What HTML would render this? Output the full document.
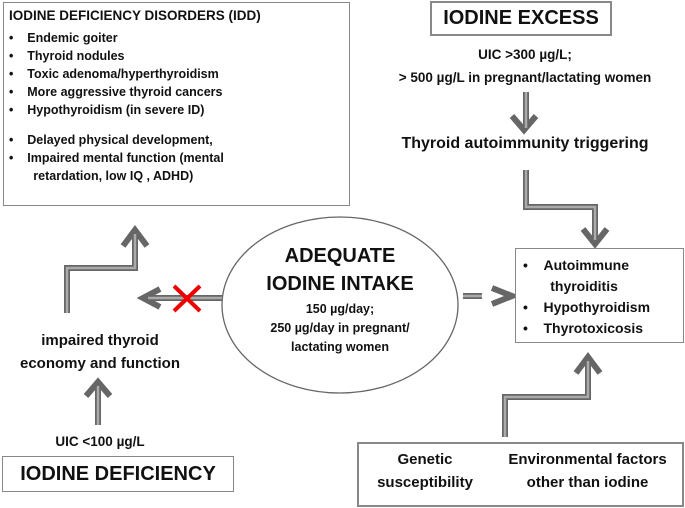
<!DOCTYPE html>
<html><head><meta charset="utf-8"><style>
body{margin:0;width:685px;height:508px;background:#fff;position:relative;overflow:hidden;font-family:"Liberation Sans",sans-serif;font-weight:bold;color:#111}
.a{position:absolute;white-space:nowrap}
.box{position:absolute;border:1.5px solid #888;box-sizing:border-box;background:#fff}
ul{margin:0;padding:0;list-style:none}
.c{text-align:center}
</style></head><body>
<svg width="685" height="508" style="position:absolute;left:0;top:0">
<ellipse cx="340" cy="305" rx="118" ry="88" fill="#fff" stroke="#666" stroke-width="1.3"/>
<g fill="none" stroke-linejoin="miter" stroke-linecap="butt">
<g stroke="#666" stroke-width="6">
<path d="M526 92V128M512 116L524 130L536 116"/>
<path d="M526 170V207H595V243M583 229L595 244L607 229"/>
<path d="M463 296H482M492 288L512 296L492 304"/>
<path d="M222 298H145M160 289L143 298L160 307"/>
<path d="M67 313V268H135V232M123 246L135 230L147 246"/>
<path d="M98 425V386M86 396L98 382L110 396"/>
<path d="M505 437V397H588V359M576 373L588 357L600 373"/>
</g>
<g stroke="#aaa" stroke-width="2.5">
<path d="M526 92V128"/><path d="M526 170V207H595V240"/><path d="M463 296H482"/>
<path d="M222 298H148"/><path d="M67 313V268H135V234"/><path d="M98 425V386"/><path d="M505 437V397H588V361"/>
</g>
</g>
<path d="M174 286L200 311M200 286L174 311" stroke="#e00" stroke-width="4"/>
</svg>
<div class="box" style="left:3px;top:2px;width:347px;height:204px"></div>
<div class="a" style="left:9px;top:8px;font-size:13.5px">IODINE DEFICIENCY DISORDERS (IDD)</div>
<div class="a" style="left:9px;top:29px;font-size:12.5px;line-height:18px">
•&nbsp;&nbsp;&nbsp;&nbsp;Endemic goiter<br>•&nbsp;&nbsp;&nbsp;&nbsp;Thyroid nodules<br>•&nbsp;&nbsp;&nbsp;&nbsp;Toxic adenoma/hyperthyroidism<br>•&nbsp;&nbsp;&nbsp;&nbsp;More aggressive thyroid cancers<br>•&nbsp;&nbsp;&nbsp;&nbsp;Hypothyroidism (in severe ID)</div>
<div class="a" style="left:9px;top:131px;font-size:12.5px;line-height:18px">
•&nbsp;&nbsp;&nbsp;&nbsp;Delayed physical development,<br>•&nbsp;&nbsp;&nbsp;&nbsp;Impaired mental function (mental<br>&nbsp;&nbsp;&nbsp;&nbsp;&nbsp;&nbsp;&nbsp;retardation, low IQ , ADHD)</div>
<div class="box" style="left:430px;top:1px;width:182px;height:35px;border-width:2px"></div>
<div class="a c" style="left:430px;top:7px;width:182px;font-size:20px">IODINE EXCESS</div>
<div class="a c" style="left:350px;top:43px;width:350px;font-size:13.5px;line-height:23px">UIC &gt;300 µg/L;<br>&gt; 500 µg/L in pregnant/lactating women</div>
<div class="a c" style="left:360px;top:135px;width:330px;font-size:16px">Thyroid autoimmunity triggering</div>
<div class="box" style="left:515px;top:248px;width:169px;height:95px"></div>
<div class="a" style="left:523px;top:255px;font-size:14px;line-height:21px">•&nbsp;&nbsp;&nbsp;&nbsp;Autoimmune<br>&nbsp;&nbsp;&nbsp;&nbsp;&nbsp;&nbsp;&nbsp;thyroiditis<br>•&nbsp;&nbsp;&nbsp;&nbsp;Hypothyroidism<br>•&nbsp;&nbsp;&nbsp;&nbsp;Thyrotoxicosis</div>
<div class="a c" style="left:240px;top:242px;width:200px;font-size:20px;line-height:28px">ADEQUATE<br>IODINE INTAKE</div>
<div class="a c" style="left:230px;top:300px;width:220px;font-size:12.5px;line-height:19px">150 µg/day;<br>250 µg/day in pregnant/<br>lactating women</div>
<div class="a c" style="left:0px;top:329px;width:200px;font-size:15px;line-height:23px">impaired thyroid<br>economy and function</div>
<div class="a c" style="left:0px;top:434px;width:200px;font-size:13.5px">UIC &lt;100 µg/L</div>
<div class="box" style="left:2px;top:456px;width:232px;height:36px"></div>
<div class="a c" style="left:2px;top:463px;width:232px;font-size:20px">IODINE DEFICIENCY</div>
<div class="box" style="left:357px;top:442px;width:327px;height:65px;border-width:2px"></div>
<div class="a c" style="left:360px;top:448px;width:130px;font-size:15px;line-height:23px">Genetic<br>susceptibility</div>
<div class="a c" style="left:495px;top:448px;width:185px;font-size:15px;line-height:23px">Environmental factors<br>other than iodine</div>
</body></html>
